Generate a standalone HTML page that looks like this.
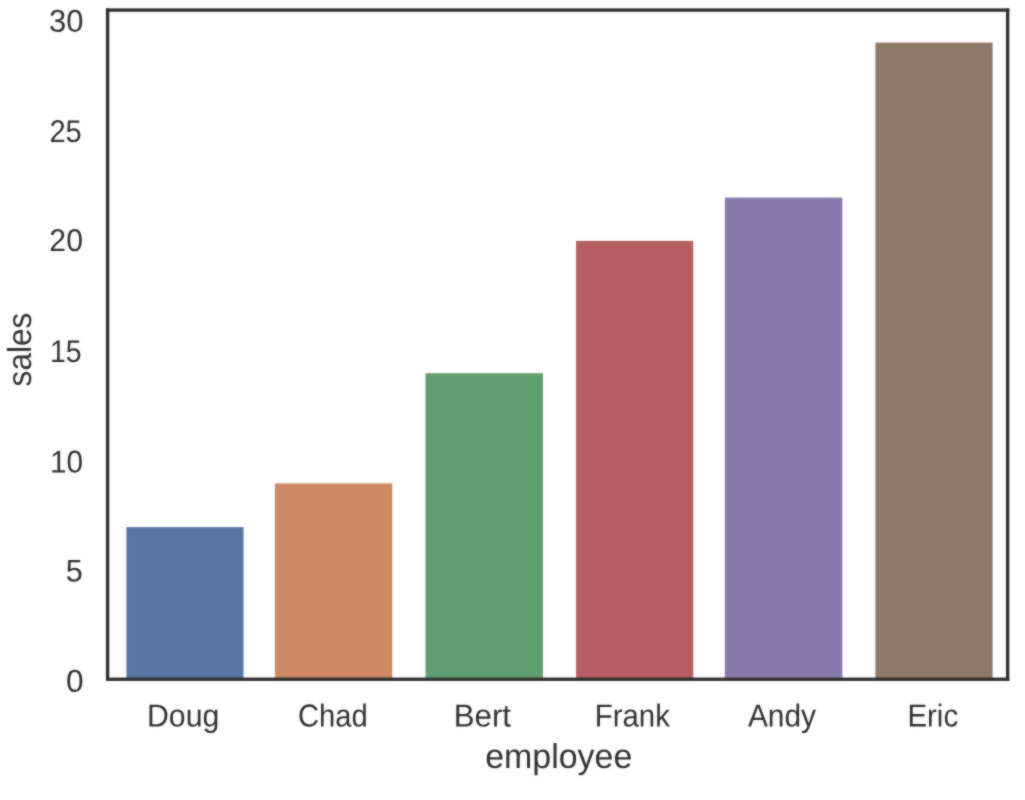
<!DOCTYPE html>
<html>
<head>
<meta charset="utf-8">
<title>sales by employee</title>
<style>
html,body{margin:0;padding:0;background:#ffffff;}
body{width:1025px;height:800px;overflow:hidden;font-family:"Liberation Sans",sans-serif;}
svg{display:block;}
text{font-family:"Liberation Sans",sans-serif;fill:#2e2e2e;}
</style>
</head>
<body>
<svg width="1025" height="800" viewBox="0 0 1025 800">
<defs><filter id="soft" x="0" y="0" width="1025" height="800" filterUnits="userSpaceOnUse" color-interpolation-filters="sRGB"><feGaussianBlur in="SourceGraphic" stdDeviation="0.8" result="b"/><feComposite in="SourceGraphic" in2="b" operator="arithmetic" k1="0" k2="0.5" k3="0.5" k4="0"/></filter></defs>
<rect x="0" y="0" width="1025" height="800" fill="#ffffff"/>
<g filter="url(#soft)">
<rect x="0" y="0" width="1025" height="800" fill="#ffffff"/>
<rect x="126.40" y="527.10" width="117.10" height="153.30" fill="#5875a4"/>
<rect x="274.90" y="483.40" width="117.40" height="197.00" fill="#cc8963"/>
<rect x="425.50" y="373.20" width="117.50" height="307.20" fill="#5f9e6e"/>
<rect x="576.10" y="240.90" width="117.10" height="439.50" fill="#b55d60"/>
<rect x="724.90" y="197.60" width="117.40" height="482.80" fill="#857aab"/>
<rect x="875.40" y="42.60" width="117.20" height="637.80" fill="#8d7866"/>
<rect x="105.95" y="8.45" width="3.30" height="672.45" fill="#2c2c2c"/>
<rect x="1006.00" y="8.45" width="3.30" height="672.45" fill="#2c2c2c"/>
<rect x="105.95" y="8.45" width="903.35" height="3.30" fill="#2c2c2c"/>
<rect x="105.95" y="677.60" width="903.35" height="3.30" fill="#2c2c2c"/>
<text font-size="31.4" transform="translate(49.02,31.80) rotate(0.03) scale(0.9862,1.0000)">30</text>
<text font-size="31.4" transform="translate(49.40,142.00) rotate(0.03) scale(0.9264,1.0000)">25</text>
<text font-size="31.4" transform="translate(49.35,250.90) rotate(0.03) scale(0.9619,1.0000)">20</text>
<text font-size="31.4" transform="translate(50.05,362.00) rotate(0.03) scale(0.9062,1.0000)">15</text>
<text font-size="31.4" transform="translate(49.90,472.40) rotate(0.03) scale(0.9469,1.0000)">10</text>
<text font-size="31.4" transform="translate(65.67,581.50) rotate(0.03) scale(0.9747,1.0000)">5</text>
<text font-size="31.4" transform="translate(66.03,691.80) rotate(0.03) scale(1.0096,1.0000)">0</text>
<text font-size="31.8" transform="translate(147.03,726.40) rotate(0.03) scale(0.9513,1.0000)">Doug</text>
<text font-size="31.8" transform="translate(298.07,726.40) rotate(0.03) scale(0.9166,1.0000)">Chad</text>
<text font-size="31.8" transform="translate(453.72,726.40) rotate(0.03) scale(0.9830,1.0000)">Bert</text>
<text font-size="31.8" transform="translate(594.73,726.50) rotate(0.03) scale(0.9253,1.0000)">Frank</text>
<text font-size="31.8" transform="translate(747.89,726.40) rotate(0.03) scale(0.9398,1.0000)">Andy</text>
<text font-size="31.8" transform="translate(907.39,726.40) rotate(0.03) scale(0.9271,1.0000)">Eric</text>
<text font-size="34.5" transform="translate(485.22,767.90) rotate(0.03) scale(0.9832,1.0000)">employee</text>
<text font-size="34.5" transform="translate(31.00,386.38) rotate(-90.03) scale(0.9166,0.9700)">sales</text>
</g>
</svg>
</body>
</html>
